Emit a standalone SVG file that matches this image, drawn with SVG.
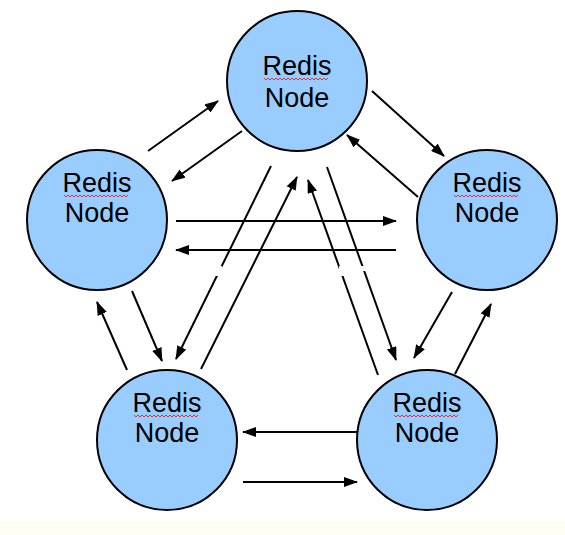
<svg xmlns="http://www.w3.org/2000/svg" width="565" height="535" viewBox="0 0 565 535">
<defs>
<style>
.node circle{fill:#99CCFF;stroke:#000;stroke-width:2}
.node text{font-family:"Liberation Sans",Arial,sans-serif;font-size:27px;fill:#000;text-anchor:middle}
.sq{fill:none;stroke:#E03040;stroke-width:1}
#connectors line{stroke:#000;stroke-width:2;marker-end:url(#ah)}
</style>
<marker id="ah" viewBox="0 0 14 10" refX="13" refY="5" markerWidth="14" markerHeight="10" markerUnits="userSpaceOnUse" orient="auto">
<path d="M0,0 L14,5 L0,10 Z" fill="#000"/>
</marker>
</defs>
<rect x="0" y="0" width="565" height="535" fill="#fff"/>
<rect x="0" y="521" width="565" height="14" fill="#FEFEF2"/>
<g id="connectors">
<line x1="148" y1="151" x2="218" y2="101"/>
<line x1="242" y1="131" x2="172" y2="181"/>
<line x1="372" y1="91" x2="444" y2="156"/>
<line x1="418" y1="197" x2="347" y2="135"/>
<line x1="176" y1="221" x2="396" y2="221"/>
<line x1="396" y1="250" x2="176" y2="250"/>
<line x1="271" y1="166" x2="176" y2="359"/>
<line x1="201" y1="369" x2="297" y2="177"/>
<line x1="378" y1="375" x2="308" y2="180"/>
<line x1="327" y1="167" x2="396" y2="360"/>
<line x1="132" y1="291" x2="162" y2="361"/>
<line x1="127" y1="370" x2="97" y2="302"/>
<line x1="452" y1="292" x2="414" y2="358"/>
<line x1="455" y1="374" x2="491" y2="304"/>
<line x1="357" y1="432" x2="243" y2="432"/>
<line x1="243" y1="482" x2="357" y2="482"/>
</g>
<g fill="#fff">
<rect x="214" y="266" width="8" height="10"/>
<rect x="339" y="266" width="7" height="10"/>
<rect x="360" y="266" width="6" height="5"/>
</g>
<g id="node-top" class="node">
<circle cx="297" cy="81" r="70"/>
<text x="297" y="75">Redis</text>
<text x="297" y="107">Node</text>
<path class="sq" d="M264,78 l2,2 l2,-2 l2,2 l2,-2 l2,2 l2,-2 l2,2 l2,-2 l2,2 l2,-2 l2,2 l2,-2 l2,2 l2,-2 l2,2 l2,-2 l2,2 l2,-2 l2,2 l2,-2 l2,2 l2,-2 l2,2 l2,-2 l2,2 l2,-2 l2,2 l2,-2 l2,2 l2,-2 l2,2 l2,-2"/>
</g>
<g id="node-left" class="node">
<circle cx="97" cy="220" r="70"/>
<text x="97" y="192">Redis</text>
<text x="97" y="222">Node</text>
<path class="sq" d="M64,195 l2,2 l2,-2 l2,2 l2,-2 l2,2 l2,-2 l2,2 l2,-2 l2,2 l2,-2 l2,2 l2,-2 l2,2 l2,-2 l2,2 l2,-2 l2,2 l2,-2 l2,2 l2,-2 l2,2 l2,-2 l2,2 l2,-2 l2,2 l2,-2 l2,2 l2,-2 l2,2 l2,-2 l2,2 l2,-2"/>
</g>
<g id="node-right" class="node">
<circle cx="487" cy="220" r="70"/>
<text x="487" y="192">Redis</text>
<text x="487" y="222">Node</text>
<path class="sq" d="M454,195 l2,2 l2,-2 l2,2 l2,-2 l2,2 l2,-2 l2,2 l2,-2 l2,2 l2,-2 l2,2 l2,-2 l2,2 l2,-2 l2,2 l2,-2 l2,2 l2,-2 l2,2 l2,-2 l2,2 l2,-2 l2,2 l2,-2 l2,2 l2,-2 l2,2 l2,-2 l2,2 l2,-2 l2,2 l2,-2"/>
</g>
<g id="node-bottom-left" class="node">
<circle cx="167" cy="440" r="70"/>
<text x="167" y="412">Redis</text>
<text x="167" y="442">Node</text>
<path class="sq" d="M134,415 l2,2 l2,-2 l2,2 l2,-2 l2,2 l2,-2 l2,2 l2,-2 l2,2 l2,-2 l2,2 l2,-2 l2,2 l2,-2 l2,2 l2,-2 l2,2 l2,-2 l2,2 l2,-2 l2,2 l2,-2 l2,2 l2,-2 l2,2 l2,-2 l2,2 l2,-2 l2,2 l2,-2 l2,2 l2,-2"/>
</g>
<g id="node-bottom-right" class="node">
<circle cx="427" cy="440" r="70"/>
<text x="427" y="412">Redis</text>
<text x="427" y="442">Node</text>
<path class="sq" d="M394,415 l2,2 l2,-2 l2,2 l2,-2 l2,2 l2,-2 l2,2 l2,-2 l2,2 l2,-2 l2,2 l2,-2 l2,2 l2,-2 l2,2 l2,-2 l2,2 l2,-2 l2,2 l2,-2 l2,2 l2,-2 l2,2 l2,-2 l2,2 l2,-2 l2,2 l2,-2 l2,2 l2,-2 l2,2 l2,-2"/>
</g>
</svg>
